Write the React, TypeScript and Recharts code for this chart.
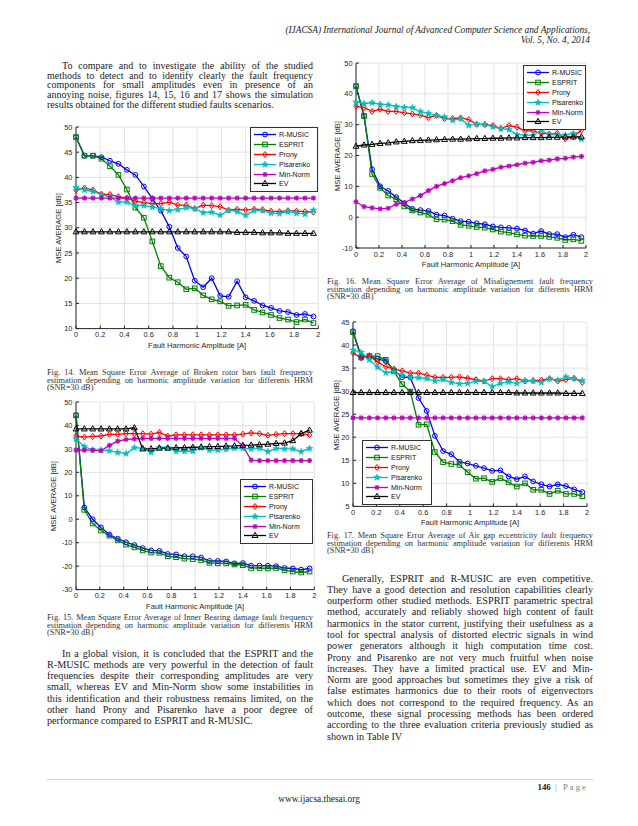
import React from 'react';
import { LineChart, Line, XAxis, YAxis, CartesianGrid } from 'recharts';

const FONT_SANS = '"Liberation Sans", Arial, sans-serif';
const FONT_SERIF = '"Liberation Serif", "Times New Roman", serif';

// fault harmonic amplitude [A], shared by all four figures
const amplitude = [
  0, 0.07, 0.14, 0.21, 0.28, 0.35, 0.42, 0.49, 0.56, 0.63, 0.7, 0.77, 0.84, 0.91, 0.98,
  1.05, 1.12, 1.19, 1.26, 1.33, 1.4, 1.47, 1.54, 1.61, 1.68, 1.75, 1.82, 1.89, 1.96,
];
const xTicks = [0, 0.2, 0.4, 0.6, 0.8, 1, 1.2, 1.4, 1.6, 1.8, 2];

// Fig. 14 - broken rotor bars
const fig14RMusic = [48, 44.3, 44.3, 44, 43.3, 42.7, 41.5, 40.5, 38.2, 35.8, 33.4, 30.2, 26, 24.3, 19.5, 18.2, 20, 16.5, 16.3, 19.4, 16.2, 15.5, 14.6, 14.1, 13.5, 13.3, 12.7, 12.9, 12.4];
const fig14Esprit = [48, 44.3, 44.3, 43.7, 42.2, 40.5, 37.6, 34, 32, 27.3, 22.4, 20.1, 19.2, 17.8, 18, 16.6, 15.8, 15.4, 14.5, 14.6, 14.7, 13.7, 13.2, 12.7, 12.1, 11.8, 11.3, 11.8, 11.1];
const fig14Prony = [37.5, 37.9, 37.5, 36.7, 36.6, 36.2, 35.9, 35.3, 35, 34.8, 34.8, 35.1, 34.5, 34.5, 33.8, 34.5, 34.4, 34.2, 33.5, 33.7, 33.5, 33.7, 33.6, 33.3, 33.2, 33.4, 33.3, 33.2, 33.1];
const fig14Pisarenko = [38, 37.5, 37.2, 36.6, 36.1, 35.1, 35.1, 34.4, 34.4, 34.1, 33.8, 33.4, 33.6, 34, 33.8, 33, 33.1, 32.5, 33.5, 33.2, 32.5, 33.4, 33.4, 32.9, 32.8, 33.2, 32.9, 32.7, 33.5];
const fig14MinNorm = [35.9, 35.9, 35.9, 35.9, 35.9, 35.9, 35.9, 35.9, 35.9, 35.9, 35.9, 35.9, 35.9, 35.9, 35.9, 35.9, 35.9, 35.9, 35.9, 35.9, 35.9, 35.9, 35.9, 35.9, 35.9, 35.9, 35.9, 35.9, 35.9];
const fig14Ev = [29.2, 29.2, 29.2, 29.2, 29.2, 29.2, 29.2, 29.2, 29.2, 29.2, 29.2, 29.2, 29.2, 29.2, 29.2, 29.2, 29.2, 29.2, 29.2, 29.1, 29.1, 29.1, 29, 29, 29, 28.9, 28.9, 28.9, 28.9];

// Fig. 15 - inner bearing damage
const fig15RMusic = [44.3, 5, 0, -3.5, -6.5, -8.3, -9.8, -11, -12.3, -13.3, -13.5, -14.8, -15, -15.8, -15.8, -16.3, -17.8, -17.8, -18, -18.8, -18.7, -19.8, -19.8, -19.8, -20, -20.8, -21, -21.5, -21];
const fig15Esprit = [44.3, 4, -1.8, -4.8, -7, -9, -10.8, -12, -13.3, -14.2, -14.3, -15.8, -16.2, -16.8, -17, -17.4, -18.6, -18.8, -18.8, -19.3, -19.6, -20.8, -20.8, -21, -20.8, -21.7, -22.3, -22.7, -22.3];
const fig15Prony = [35.5, 35, 35.3, 35.5, 36.2, 36.2, 36.5, 36.5, 36.5, 36.3, 37, 35.5, 36, 36, 36, 36, 36, 36, 36, 36, 36.3, 36.8, 36.5, 35.8, 36.2, 36.5, 36.5, 36.5, 36];
const fig15Pisarenko = [34.2, 31, 29.5, 29.5, 29.2, 28.5, 28, 30.5, 30.2, 28.5, 30.5, 30.5, 29, 29, 29, 30.5, 29.5, 29.5, 29.8, 30.3, 30.2, 30, 30.3, 28.8, 30.2, 30, 30, 28.8, 30.2];
const fig15MinNorm = [29.5, 29.5, 29.5, 29.2, 31.5, 33.3, 34, 34.3, 34.5, 34.5, 34.5, 34.5, 34.5, 34.5, 34.5, 34.5, 34.5, 34.5, 34.5, 34.5, 31.2, 25.2, 25, 25, 25, 25, 25, 25, 25];
const fig15Ev = [38.5, 38.5, 38.5, 38.5, 38.5, 38.5, 38.5, 39, 30, 30, 30.3, 30.3, 30.5, 30.5, 30.7, 30.8, 31, 31, 31.2, 31.3, 31.5, 31.6, 31.8, 32, 32.3, 32.5, 33.5, 36.5, 38];

// Fig. 16 - misalignement
const fig16RMusic = [42.5, 32.8, 15.5, 10, 8.5, 6.5, 4.5, 2.7, 2.3, 2, 0.8, 0.5, -0.5, -1.3, -1.5, -2, -2.3, -3, -3.3, -3.5, -3.7, -4.3, -5.3, -4.5, -5.5, -5.5, -6.5, -5.7, -6.5];
const fig16Esprit = [42.5, 32.8, 14, 9.5, 7, 5.8, 3.5, 2.2, 1.5, 0.8, -0.7, -0.8, -1.3, -2.5, -2.8, -3.2, -3.4, -4, -4.7, -5, -5.6, -6, -6.1, -6.1, -6.4, -6.7, -7.4, -7.2, -7.7];
const fig16Prony = [36, 35.5, 34.3, 35, 34.3, 34.3, 33.8, 33.5, 33.1, 32.3, 33, 31.9, 32, 32.2, 31.6, 30.1, 30, 29.7, 28.8, 29.7, 29.2, 28, 28, 27.2, 27, 27.2, 25.5, 26.2, 28.2];
const fig16Pisarenko = [37.3, 36.8, 37.1, 36.6, 36.4, 35.9, 35.6, 35.5, 34.2, 33.7, 32.9, 32.5, 31.4, 31.9, 29.8, 30.2, 30.1, 29.3, 28.7, 28.4, 26.8, 26.6, 26.5, 28.3, 26.8, 26.7, 26.6, 27.2, 25.3];
const fig16MinNorm = [5, 3.4, 3, 2.7, 2.9, 4.2, 4.7, 5.9, 7, 8.6, 10, 10.9, 11.8, 12.8, 13.4, 14.1, 15, 15.5, 16.2, 16.6, 17, 17.5, 17.8, 18.3, 18.5, 18.9, 19.1, 19.5, 19.7];
const fig16Ev = [23, 23.4, 23.6, 23.9, 24.1, 24.4, 24.6, 24.8, 24.9, 25, 25.1, 25.2, 25.3, 25.3, 25.4, 25.5, 25.5, 25.6, 25.6, 25.7, 25.7, 25.8, 25.8, 25.8, 25.9, 25.9, 26, 26, 26];

// Fig. 17 - air gap eccentricity
const fig17RMusic = [43, 37.5, 37.5, 37, 36.5, 34.5, 33, 33, 28.5, 25.7, 20.3, 17, 16.3, 14.7, 14.3, 13.8, 13.3, 12.7, 12.8, 11.5, 10.9, 11.5, 10.4, 9.8, 9.3, 9.8, 9.4, 8.7, 8.1];
const fig17Esprit = [42.8, 37.3, 37.6, 37.6, 36.8, 34.3, 31.5, 29.9, 22.7, 22.8, 16.8, 14.6, 14.2, 14, 12.4, 11, 11.1, 10.3, 11.1, 10.2, 9.3, 10, 8.6, 8.6, 7.7, 8.4, 7.7, 7.7, 7.2];
const fig17Prony = [38.3, 37.2, 37.7, 36.3, 35.3, 34.8, 34.4, 33.9, 33.9, 33.5, 33, 33, 33, 33.1, 32.8, 32.5, 32.2, 32.7, 32.7, 32.5, 32.7, 32.2, 32.3, 32.4, 32.7, 32.2, 32.5, 32.8, 31.9];
const fig17Pisarenko = [38.9, 38.4, 36.8, 35.2, 34, 34.2, 33.5, 33, 32.9, 32.7, 32.2, 32.5, 31.9, 31.6, 31.7, 32.1, 32.1, 31, 31.7, 32, 31.7, 32.3, 32.2, 31.9, 32.7, 32.4, 33.1, 32.7, 32.3];
const fig17MinNorm = [24.2, 24.2, 24.2, 24.2, 24.2, 24.2, 24.2, 24.2, 24.2, 24.2, 24.2, 24.2, 24.2, 24.2, 24.2, 24.2, 24.2, 24.2, 24.2, 24.2, 24.2, 24.2, 24.2, 24.2, 24.2, 24.2, 24.2, 24.2, 24.2];
const fig17Ev = [29.7, 29.7, 29.7, 29.7, 29.7, 29.7, 29.7, 29.7, 29.7, 29.7, 29.7, 29.7, 29.7, 29.7, 29.7, 29.7, 29.7, 29.7, 29.7, 29.7, 29.6, 29.6, 29.6, 29.6, 29.6, 29.6, 29.5, 29.5, 29.5];

type MarkerKind = 'circle' | 'square' | 'diamond' | 'star' | 'asterisk' | 'triangle';

const methods: { key: string; name: string; color: string; marker: MarkerKind }[] = [
  { key: 'rmusic', name: 'R-MUSIC', color: '#0000ff', marker: 'circle' },
  { key: 'esprit', name: 'ESPRIT', color: '#008000', marker: 'square' },
  { key: 'prony', name: 'Prony', color: '#ff0000', marker: 'diamond' },
  { key: 'pisarenko', name: 'Pisarenko', color: '#00bfbf', marker: 'star' },
  { key: 'minnorm', name: 'Min-Norm', color: '#bf00bf', marker: 'asterisk' },
  { key: 'ev', name: 'EV', color: '#000000', marker: 'triangle' },
];

function starPoints(cx: number, cy: number, ro: number, ri: number) {
  const pts: string[] = [];
  for (let i = 0; i < 10; i++) {
    const r = i % 2 === 0 ? ro : ri;
    const a = -Math.PI / 2 + (i * Math.PI) / 5;
    pts.push(`${cx + r * Math.cos(a)},${cy + r * Math.sin(a)}`);
  }
  return pts.join(' ');
}

function Marker({ kind, cx, cy, color }: { kind: MarkerKind; cx: number; cy: number; color: string }) {
  const sw = 1;
  switch (kind) {
    case 'circle':
      return <circle cx={cx} cy={cy} r={2.4} fill="none" stroke={color} strokeWidth={sw} />;
    case 'square':
      return <rect x={cx - 2.3} y={cy - 2.3} width={4.6} height={4.6} fill="none" stroke={color} strokeWidth={sw} />;
    case 'diamond':
      return <polygon points={`${cx},${cy - 3} ${cx + 2.3},${cy} ${cx},${cy + 3} ${cx - 2.3},${cy}`} fill="none" stroke={color} strokeWidth={sw} />;
    case 'star':
      return <polygon points={starPoints(cx, cy, 3.4, 1.4)} fill={color} stroke={color} strokeWidth={0.6} />;
    case 'asterisk':
      return (
        <g stroke={color} strokeWidth={1.2}>
          <line x1={cx - 2.6} y1={cy} x2={cx + 2.6} y2={cy} />
          <line x1={cx} y1={cy - 2.6} x2={cx} y2={cy + 2.6} />
          <line x1={cx - 1.9} y1={cy - 1.9} x2={cx + 1.9} y2={cy + 1.9} />
          <line x1={cx - 1.9} y1={cy + 1.9} x2={cx + 1.9} y2={cy - 1.9} />
        </g>
      );
    default:
      return <polygon points={`${cx},${cy - 3.2} ${cx + 2.9},${cy + 2} ${cx - 2.9},${cy + 2}`} fill="none" stroke={color} strokeWidth={sw} />;
  }
}

const NoTick = () => <g />;
const tickStyle = { fontSize: 7.4, fill: '#262626', fontFamily: FONT_SANS };

function LegendBox({ left, top, width }: { left: number; top: number; width: number }) {
  return (
    <div
      style={{
        position: 'absolute',
        left,
        top,
        width,
        border: '1px solid #333',
        background: '#fff',
        padding: '2px 0',
        fontFamily: FONT_SANS,
        fontSize: 7,
        color: '#111',
        boxSizing: 'border-box',
      }}
    >
      {methods.map((m) => (
        <div key={m.key} style={{ display: 'flex', alignItems: 'center', height: 9.8 }}>
          <svg width={27} height={9} style={{ flex: 'none' }}>
            <line x1={3} x2={25} y1={4.5} y2={4.5} stroke={m.color} strokeWidth={1.3} />
            <Marker kind={m.marker} cx={14} cy={4.5} color={m.color} />
          </svg>
          <span style={{ marginLeft: 1, whiteSpace: 'nowrap' }}>{m.name}</span>
        </div>
      ))}
    </div>
  );
}

interface MseChartProps {
  box: { left: number; top: number; width: number; height: number };
  yDomain: [number, number];
  yTicks: number[];
  values: number[][];
  legend: { left: number; top: number; width: number };
  yLabelX: number;
}

function MseChart({ box, yDomain, yTicks, values, legend, yLabelX }: MseChartProps) {
  const padL = 30;
  const padT = 6;
  const padR = 6;
  const padB = 26;
  const rows = amplitude.map((x, i) => {
    const row: Record<string, number> = { x };
    methods.forEach((m, j) => {
      row[m.key] = values[j][i];
    });
    return row;
  });

  return (
    <>
      <div style={{ position: 'absolute', left: box.left - padL, top: box.top - padT }}>
        <LineChart
          width={box.width + padL + padR}
          height={box.height + padT + padB}
          data={rows}
          margin={{ top: padT, right: padR, bottom: 0, left: 0 }}
        >
          <CartesianGrid stroke="#dcdcdc" strokeWidth={0.8} />
          <XAxis
            dataKey="x"
            type="number"
            domain={[0, 2]}
            ticks={xTicks}
            interval={0}
            height={padB}
            tickSize={-3}
            tickMargin={6.5}
            tick={tickStyle}
            stroke="#262626"
            label={{
              value: 'Fault Harmonic Amplitude [A]',
              position: 'insideBottom',
              offset: 7,
              style: { fontSize: 7.6, fill: '#262626', fontFamily: FONT_SANS },
            }}
          />
          <XAxis
            xAxisId="top"
            orientation="top"
            dataKey="x"
            type="number"
            domain={[0, 2]}
            ticks={xTicks}
            interval={0}
            height={0}
            tickSize={-3}
            tick={NoTick}
            stroke="#262626"
          />
          <YAxis
            type="number"
            domain={yDomain}
            ticks={yTicks}
            interval={0}
            width={padL}
            tickSize={-3}
            tickMargin={6.5}
            tick={tickStyle}
            stroke="#262626"
          />
          <YAxis
            yAxisId="right"
            orientation="right"
            type="number"
            domain={yDomain}
            ticks={yTicks}
            interval={0}
            width={0}
            tickSize={-3}
            tick={NoTick}
            stroke="#262626"
          />
          {methods.map((m) => (
            <Line
              key={m.key}
              dataKey={m.key}
              name={m.name}
              stroke={m.color}
              strokeWidth={1.3}
              isAnimationActive={false}
              activeDot={false}
              dot={(p: any) => (
                <Marker key={`${m.key}-${p.index}`} kind={m.marker} cx={p.cx} cy={p.cy} color={m.color} />
              )}
            />
          ))}
        </LineChart>
      </div>
      <div
        style={{
          position: 'absolute',
          left: yLabelX,
          top: box.top + box.height / 2,
          transform: 'translate(-50%, -50%) rotate(-90deg)',
          whiteSpace: 'nowrap',
          fontFamily: FONT_SANS,
          fontSize: 7.6,
          color: '#262626',
        }}
      >
        MSE AVERAGE [dB]
      </div>
      <LegendBox {...legend} />
    </>
  );
}

function TextBlock({
  left,
  top,
  width,
  fontSize,
  lineHeight,
  lines,
  indent = 0,
  color = '#1a1a1a',
}: {
  left: number;
  top: number;
  width: number;
  fontSize: number;
  lineHeight: number;
  lines: string[];
  indent?: number;
  color?: string;
}) {
  return (
    <div
      style={{
        position: 'absolute',
        left,
        top,
        width,
        fontFamily: FONT_SERIF,
        fontSize,
        lineHeight: `${lineHeight}px`,
        color,
      }}
    >
      {lines.map((l, i) => (
        <div
          key={i}
          style={{
            textAlign: 'justify',
            textAlignLast: i === lines.length - 1 ? 'left' : 'justify',
            textIndent: i === 0 ? indent : 0,
          }}
        >
          {l}
        </div>
      ))}
    </div>
  );
}

const para1 = [
  'To compare and to investigate the ability of the studied',
  'methods to detect and to identify clearly the fault frequency',
  'components for small amplitudes even in presence of an',
  'annoying noise, figures 14, 15, 16 and 17 shows the simulation',
  'results obtained for the different studied faults scenarios.',
];
const caption14 = [
  'Fig. 14. Mean Square Error Average of Broken rotor bars fault frequency',
  'estimation depending on harmonic amplitude variation for differents HRM',
  '(SNR=30 dB)',
];
const caption15 = [
  'Fig. 15. Mean Square Error Average of Inner Bearing damage fault frequency',
  'estimation depending on harmonic amplitude variation for differents HRM',
  '(SNR=30 dB)',
];
const caption16 = [
  'Fig. 16. Mean Square Error Average of Misalignement fault frequency',
  'estimation depending on harmonic amplitude variation for differents HRM',
  '(SNR=30 dB)',
];
const caption17 = [
  'Fig. 17. Mean Square Error Average of Air gap eccentricity fault frequency',
  'estimation depending on harmonic amplitude variation for differents HRM',
  '(SNR=30 dB)',
];
const para2 = [
  'In a global vision, it is concluded that the ESPRIT and the',
  'R-MUSIC methods are very powerful in the detection of fault',
  'frequencies despite their corresponding amplitudes are very',
  'small, whereas EV and Min-Norm show some instabilities in',
  'this identification and their robustness remains limited, on the',
  'other hand Prony and Pisarenko have a poor degree of',
  'performance compared to ESPRIT and R-MUSIC.',
];
const para3 = [
  'Generally, ESPRIT and R-MUSIC are even competitive.',
  'They have a good detection and resolution capabilities clearly',
  'outperform other studied methods. ESPRIT parametric spectral',
  'method, accurately and reliably showed high content of fault',
  'harmonics in the stator current, justifying their usefulness as a',
  'tool for spectral analysis of distorted electric signals in wind',
  'power generators although it high computation time cost.',
  'Prony and Pisarenko are not very much fruitful when noise',
  'increases. They have a limited practical use. EV and Min-',
  'Norm are good approaches but sometimes they give a risk of',
  'false estimates harmonics due to their roots of eigenvectors',
  'which does not correspond to the required frequency. As an',
  'outcome, these signal processing methods has been ordered',
  'according to the three evaluation criteria previously studied as',
  'shown in Table IV',
];

export default function App() {
  return (
    <div
      style={{
        position: 'absolute',
        left: 0,
        top: 0,
        width: 638,
        height: 826,
        background: '#fff',
        overflow: 'hidden',
      }}
    >
      <div
        style={{
          position: 'absolute',
          right: 48,
          top: 24.5,
          textAlign: 'right',
          fontFamily: FONT_SERIF,
          fontStyle: 'italic',
          fontSize: 9.3,
          lineHeight: '10.5px',
          color: '#222',
          whiteSpace: 'nowrap',
        }}
      >
        <div>(IJACSA) International Journal of Advanced Computer Science and Applications,</div>
        <div>Vol. 5, No. 4, 2014</div>
      </div>

      <TextBlock left={47} top={61} width={266} fontSize={10} lineHeight={9.7} lines={para1} indent={15} />

      <MseChart
        box={{ left: 75.7, top: 126.7, width: 242.3, height: 201.6 }}
        yDomain={[10, 50]}
        yTicks={[10, 15, 20, 25, 30, 35, 40, 45, 50]}
        values={[fig14RMusic, fig14Esprit, fig14Prony, fig14Pisarenko, fig14MinNorm, fig14Ev]}
        legend={{ left: 250, top: 127, width: 68 }}
        yLabelX={58}
      />
      <TextBlock left={47} top={369} width={266} fontSize={8.3} lineHeight={7.5} lines={caption14} color="#333" />

      <MseChart
        box={{ left: 75.7, top: 401.7, width: 238.3, height: 187.6 }}
        yDomain={[-30, 50]}
        yTicks={[-30, -20, -10, 0, 10, 20, 30, 40, 50]}
        values={[fig15RMusic, fig15Esprit, fig15Prony, fig15Pisarenko, fig15MinNorm, fig15Ev]}
        legend={{ left: 240, top: 479, width: 73 }}
        yLabelX={53}
      />
      <TextBlock left={47} top={614} width={266} fontSize={8.3} lineHeight={7.5} lines={caption15} color="#333" />

      <TextBlock left={47} top={647.5} width={266} fontSize={10.2} lineHeight={11.3} lines={para2} indent={15} />

      <MseChart
        box={{ left: 356, top: 63.3, width: 230, height: 185 }}
        yDomain={[-10, 50]}
        yTicks={[-10, 0, 10, 20, 30, 40, 50]}
        values={[fig16RMusic, fig16Esprit, fig16Prony, fig16Pisarenko, fig16MinNorm, fig16Ev]}
        legend={{ left: 523, top: 65, width: 63 }}
        yLabelX={337}
      />
      <TextBlock left={327} top={278} width={266} fontSize={8.3} lineHeight={7.5} lines={caption16} color="#333" />

      <MseChart
        box={{ left: 353.3, top: 322.3, width: 234, height: 184.4 }}
        yDomain={[5, 45]}
        yTicks={[5, 10, 15, 20, 25, 30, 35, 40, 45]}
        values={[fig17RMusic, fig17Esprit, fig17Prony, fig17Pisarenko, fig17MinNorm, fig17Ev]}
        legend={{ left: 362, top: 440, width: 70 }}
        yLabelX={336}
      />
      <TextBlock left={327} top={532} width={266} fontSize={8.3} lineHeight={7.5} lines={caption17} color="#333" />

      <TextBlock left={327} top={572.5} width={266} fontSize={10.2} lineHeight={11.3} lines={para3} indent={15} />

      <div style={{ position: 'absolute', left: 47, top: 779, width: 546, borderTop: '1px solid #d0d0d0' }} />
      <div
        style={{
          position: 'absolute',
          right: 50,
          top: 782,
          fontFamily: FONT_SERIF,
          fontSize: 8.8,
          color: '#222',
          whiteSpace: 'nowrap',
        }}
      >
        <span style={{ fontWeight: 'bold' }}>146</span>
        <span style={{ color: '#7f7f7f', letterSpacing: 2 }}> | Page</span>
      </div>
      <div
        style={{
          position: 'absolute',
          left: 0,
          width: 638,
          top: 794,
          textAlign: 'center',
          fontFamily: FONT_SERIF,
          fontSize: 9.3,
          color: '#222',
        }}
      >
        www.ijacsa.thesai.org
      </div>
    </div>
  );
}
